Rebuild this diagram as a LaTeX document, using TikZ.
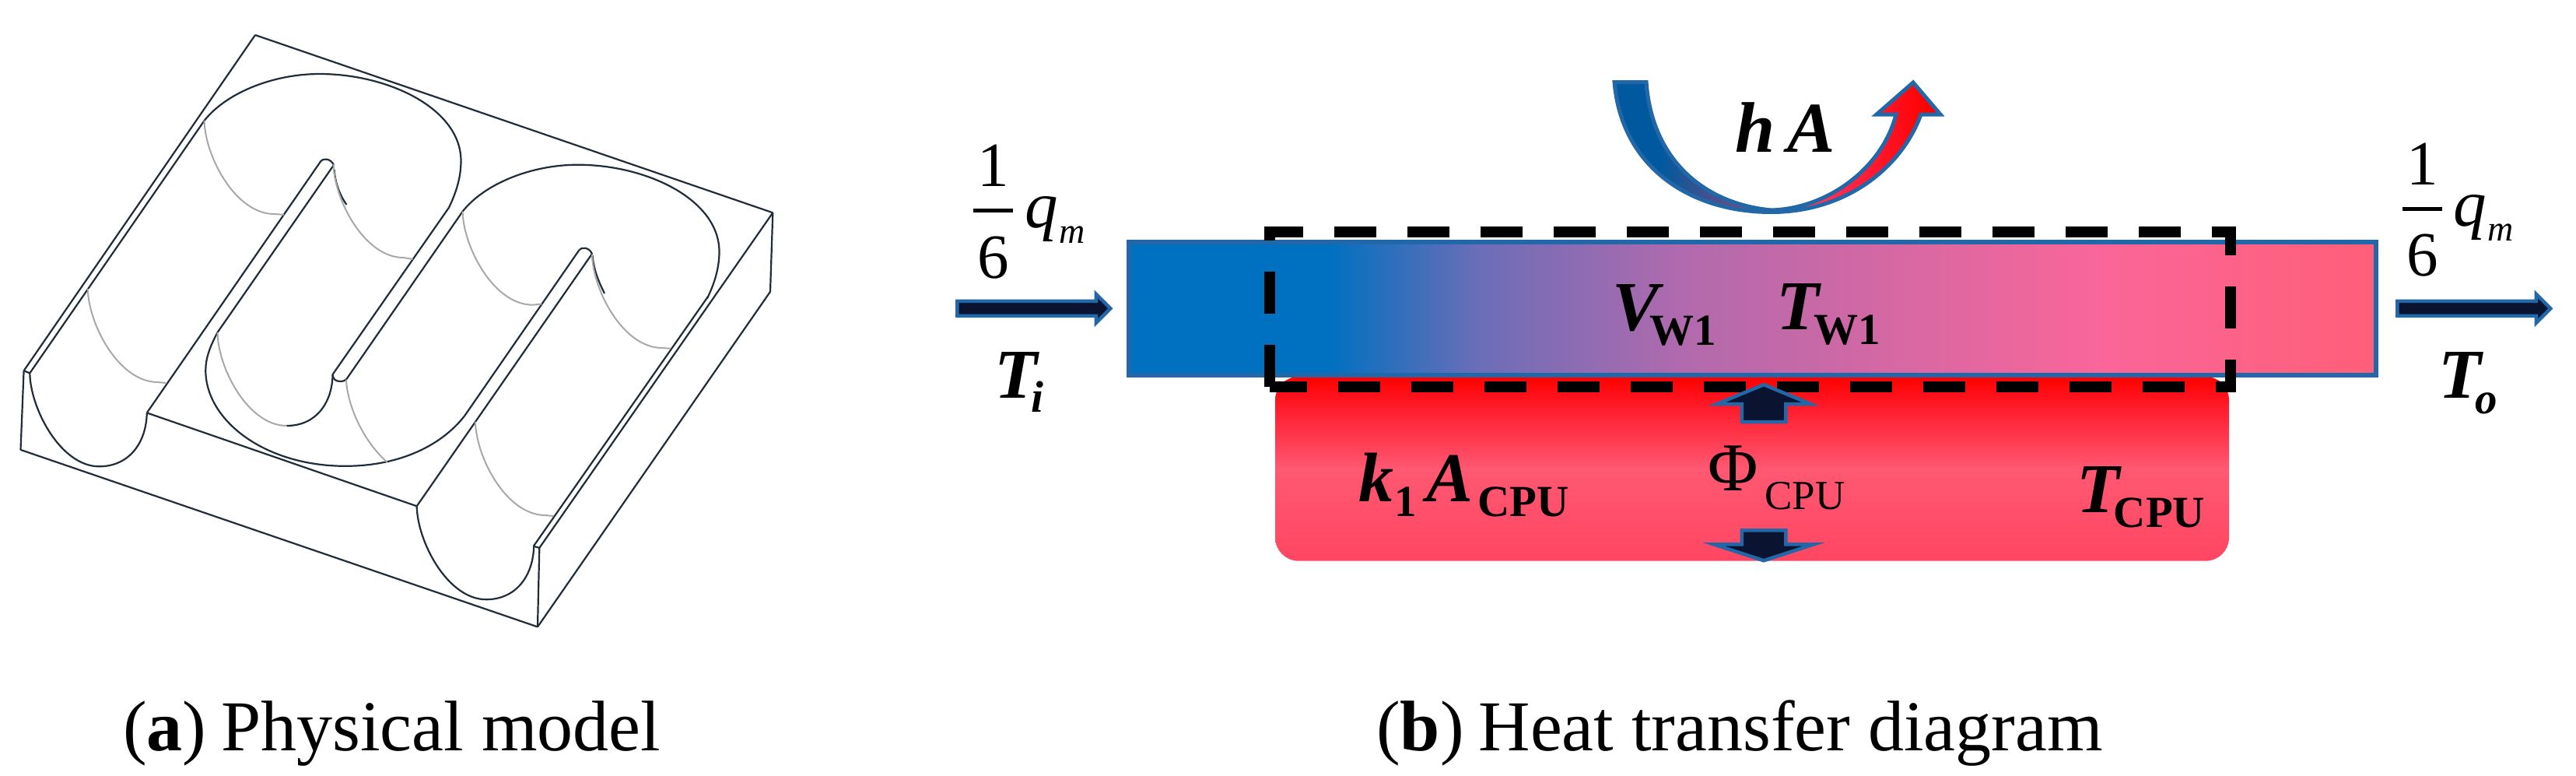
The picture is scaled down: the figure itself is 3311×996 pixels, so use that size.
\documentclass[tikz,border=0pt]{standalone}
\usepackage{fontspec}
\setmainfont{Liberation Serif}
\usepackage{xcolor}
\usetikzlibrary{shapes.arrows}

\definecolor{flowblue}{HTML}{2268A8}
\definecolor{darkfill}{HTML}{0A1430}
\definecolor{modeldark}{HTML}{1F2C3A}
\definecolor{modelgray}{HTML}{A8A8A8}

\pgfdeclarehorizontalshading{waterfill}{100bp}{rgb(0bp)=(0,0.44,0.753); rgb(33bp)=(0,0.44,0.753); rgb(39bp)=(0.42,0.43,0.72);
  rgb(47bp)=(0.69,0.416,0.68); rgb(64bp)=(0.98,0.4,0.6); rgb(75bp)=(1,0.37,0.47); rgb(100bp)=(1,0.37,0.47)}
\pgfdeclareverticalshading{cpufill}{100bp}{rgb(0bp)=(1,0.275,0.384); rgb(25bp)=(1,0.275,0.384);
  rgb(50bp)=(1,0.345,0.447); rgb(65bp)=(1,0.13,0.2); rgb(75bp)=(1,0,0); rgb(100bp)=(1,0,0)}
\pgfdeclarehorizontalshading{arcfill}{100bp}{rgb(0bp)=(0,0.35,0.62); rgb(32bp)=(0,0.35,0.62);
  rgb(46bp)=(0.49,0.29,0.5); rgb(55bp)=(1,0.21,0.4); rgb(73bp)=(1,0,0); rgb(100bp)=(1,0,0)}

\newcommand{\lowbold}[2]{\hspace{#1}\raisebox{-19pt}{\fontsize{57}{57}\selectfont\bfseries\upshape #2}}

\begin{document}
\begin{tikzpicture}[x=1pt,y=-1pt]
  \tikzset{modelline/.style = {draw=modeldark,line width=2.2pt,line join=round}}
  \tikzset{modelarc/.style = {draw=modelgray,line width=2pt}}
  \tikzset{waterbar/.style = {shape=rectangle,draw=flowblue,line width=5.5pt,shading=waterfill,inner sep=0pt,outer sep=0pt}}
  \tikzset{cpubox/.style = {shape=rectangle,rounded corners=30pt,shading=cpufill,inner sep=0pt,outer sep=0pt}}
  \tikzset{dashbox/.style = {draw=black,line width=14.5pt,dash pattern=on 54pt off 40pt,line join=miter}}
  \tikzset{flowarrow/.style = {shape=single arrow,draw=flowblue,fill=darkfill,line width=4.5pt,inner sep=0pt,text width=0pt,text depth=0pt}}
  \tikzset{sidearrow/.style = {flowarrow,text height=14.5pt,single arrow head extend=9pt,minimum height=197pt}}
  \tikzset{fracbar/.style = {shape=rectangle,fill=black,inner sep=0pt,minimum height=5pt}}
  \tikzset{labelvar/.style = {anchor=base west,inner sep=0pt,font=\fontsize{90}{90}\selectfont\bfseries\itshape}}
  \tikzset{digit/.style = {anchor=base,inner sep=0pt,font=\fontsize{81}{81}\selectfont}}
  \tikzset{caption/.style = {anchor=base west,inner sep=0pt,font=\fontsize{92}{92}\selectfont}}

  \useasboundingbox (0,0) rectangle (3311,996);

  % physical model
  \coordinate (T) at (328,45);
  \coordinate (FL) at (30.6,476.3);
  \coordinate (FLi) at (38.3,479.4);
  \coordinate (BL) at (26.5,577.9);
  \coordinate (BR) at (691,805.4);
  \coordinate (RU) at (993.3,273.3);
  \coordinate (RD) at (990,374.8);
  \coordinate (WLa) at (262.6,155);
  \coordinate (WRa) at (685.7,701.8);
  \coordinate (WRb) at (693.3,703.9);
  \coordinate (WRc) at (910,381);
  \coordinate (ARa) at (577,266.7);
  \coordinate (ARb) at (427.6,481);
  \coordinate (ARc) at (445,487.6);
  \coordinate (ARd) at (594.6,271.7);
  \coordinate (TAa) at (412.6,206.7);
  \coordinate (TAb) at (429,212);
  \coordinate (TAc) at (188.8,530.4);
  \coordinate (TAd) at (279.6,427);
  \coordinate (TBa) at (744.6,321);
  \coordinate (TBb) at (761,326);
  \coordinate (TBc) at (535.7,650.3);
  \coordinate (TBd) at (597,534.5);

  \foreach \from/\to in {T/FL, FL/BL, FL/FLi, BL/BR, BR/RD, RD/RU, RU/T, RU/WRb, WRb/WRa, WRb/BR,
    WRa/WRc, FLi/WLa, ARa/ARb, ARc/ARd, TAa/TAc, TAb/TAd, TAc/TBc, TBa/TBd, TBb/TBc}
    \draw[modelline] (\from) -- (\to);

  \foreach \dx/\dy in {0/0, 332/116.7}
    \draw[modelline,shift={(\dx,\dy)}] (262.6,155) .. controls (290,120) and (350,95) .. (410.7,95)
      .. controls (500,95) and (592.5,140) .. (592.5,206.7)
      .. controls (592.5,230) and (585,250) .. (577,266.7);
  \draw[modelline] (TAd) .. controls (270,445) and (264.3,460) .. (264.3,475.8)
    .. controls (264.3,540) and (340,598.8) .. (443.9,598.8)
    .. controls (510,598.8) and (565,575) .. (TBd);
  \draw[modelline] (ARb) .. controls (428,487) and (431,490) .. (437.8,490) .. controls (441,490) and (443,489) .. (ARc);
  \draw[modelline] (TAa) .. controls (415,203.5) and (425,203) .. (TAb);
  \draw[modelline] (TBa) .. controls (747,317.5) and (757,317) .. (TBb);
  \foreach \dx/\dy in {0/0, 497.4/170.9}
    \draw[modelline,shift={(\dx,\dy)}] (38.3,479.4) .. controls (39,525) and (78,599.3) .. (127.5,599.3)
      .. controls (165,599.3) and (188,570) .. (188.8,530.4);
  \draw[modelarc] (TAd) .. controls (280,473) and (319,547) .. (368.5,547);
  \draw[modelline] (368.5,547) .. controls (406,547) and (427,518) .. (ARb);
  \draw[modelline] (429.6,218) .. controls (431,236) and (437,251) .. (445.4,263);
  \draw[modelline] (761.5,328) .. controls (763,346) and (769,361) .. (777,377);

  \foreach \sx/\sy/\ex/\ey in {262.6/155/364.8/275.8, 428.6/211/530.6/333, 112.8/371/213/492,
    594.6/271.7/696.4/390.6, 761/327/861.6/447.8, 611/542/711.7/663}
    \draw[modelarc] (\sx,\sy) .. controls +(1,46) and +(-50,0) .. ++(90,120) -- (\ex,\ey);
  \draw[modelarc] (ARc) .. controls (446,518) and (465,565) .. (497.5,593.7);

  % heat transfer diagram
  \node[cpubox,minimum width=1226pt,minimum height=236.7pt] (cpu) at (2252,602.3) {};
  \node[waterbar,minimum width=1603pt,minimum height=171pt] (bar) at (2252.5,396.5) {};
  \draw[dashbox] (1632,497) -- (1632,298) -- (2867,298) -- (2867,497) -- cycle;

  \draw[draw=flowblue,line width=5pt,miter limit=20,shading=arcfill]
    (2075,105.5) .. controls (2084,213) and (2170,272.5) .. (2276.7,272.5)
    .. controls (2370,272.5) and (2443,218) .. (2469,147)
    -- (2494,147) -- (2459,106) -- (2412,147) -- (2437,147)
    .. controls (2420,215) and (2350,268) .. (2276.7,270)
    .. controls (2190,262) and (2123,205) .. (2116,105.5) -- cycle;

  \node[sidearrow,anchor=tail] (inflow) at (1228,396.3) {};
  \node[sidearrow,anchor=tail] (outflow) at (3079,396.3) {};
  \node[flowarrow,anchor=tail,rotate=90,text height=52pt,single arrow head extend=32pt,single arrow tip angle=135,minimum height=48pt] (fluxup) at (2267,544.4) {};
  \node[flowarrow,anchor=tail,rotate=-90,text height=52pt,single arrow head extend=36pt,single arrow tip angle=144,minimum height=39pt] (fluxdown) at (2267,679) {};

  \node[digit] (onea) at (1276.5,239.5) {1};
  \node[fracbar,minimum width=51pt] (bara) at (1276.5,270.7) {};
  \node[digit] (sixa) at (1276.5,357) {6};
  \node[labelvar,font=\fontsize{85}{85}\selectfont\itshape] (qa) at (1317,292) {q\hspace{2pt}\raisebox{-20pt}{\fontsize{46}{46}\selectfont m}};
  \node[digit] (oneb) at (3113.5,237.7) {1};
  \node[fracbar,minimum width=51pt] (barb) at (3113.5,268.5) {};
  \node[digit] (sixb) at (3113.5,354.6) {6};
  \node[labelvar,font=\fontsize{85}{85}\selectfont\itshape] (qb) at (3153,290) {q\hspace{2pt}\raisebox{-19pt}{\fontsize{46}{46}\selectfont m}};

  \node[labelvar] (ti) at (1278,511) {T\hspace{-8pt}\raisebox{-18pt}{\fontsize{57}{57}\selectfont i}};
  \node[labelvar] (to) at (3133.8,511.8) {T\hspace{-8pt}\raisebox{-20pt}{\fontsize{57}{57}\selectfont o}};
  \node[labelvar,font=\fontsize{92}{92}\selectfont\bfseries\itshape] (ha) at (2230.7,195) {h\hspace{-8pt} A};
  \node[labelvar] (vw) at (2072,424) {V\lowbold{-12pt}{W1}};
  \node[labelvar] (tw) at (2283.6,423) {T\lowbold{-7pt}{W1}};
  \node[labelvar] (ka) at (1746.6,644) {k\lowbold{1pt}{1}\hspace{12pt}A\lowbold{6pt}{CPU}};
  \node[labelvar] (tc) at (2669.7,658) {T\lowbold{-8pt}{CPU}};
  \node[labelvar,font=\fontsize{88}{88}\selectfont] (phi) at (2195,630.5) {Φ\hspace{9pt}\raisebox{-24pt}{\fontsize{53}{53}\selectfont CPU}};

  \node[caption] (capa) at (158,964) {(\textbf{a})\hspace{-4pt} Physical model};
  \node[caption] (capb) at (1769,964) {(\textbf{b})\hspace{-4pt} Heat transfer diagram};
\end{tikzpicture}
\end{document}
